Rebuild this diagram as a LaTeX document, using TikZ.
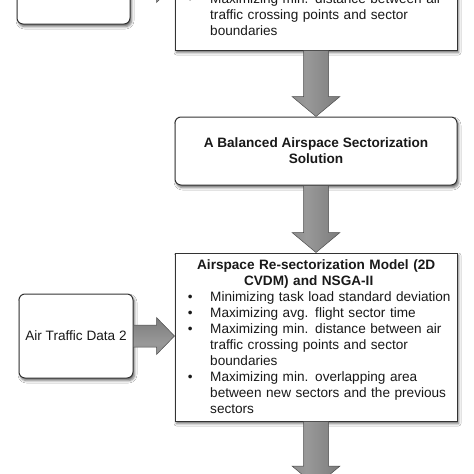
\documentclass[tikz,border=0pt]{standalone}
\usepackage{fontspec}
\setmainfont{Liberation Sans}
\usetikzlibrary{calc,shadows.blur}
\pgfdeclarehorizontalshading{arrowshade}{100bp}{color(0bp)=(black!78); color(12bp)=(black!48); color(40bp)=(black!40); color(70bp)=(black!50); color(88bp)=(black!58); color(100bp)=(black!78)}
\newcommand{\bitem}[1]{\hangindent=30pt\hangafter=1\noindent\hspace*{7pt}\makebox[6pt][c]{\textbullet}\hspace*{17pt}#1\par}
\begin{document}
\begin{tikzpicture}[x=1pt,y=-1pt,
  every node/.style={font=\fontsize{13.6}{16}\selectfont, text=black!90},
  box/.style={draw=black!80, line width=1pt, fill=white, inner sep=0pt,
    blur shadow={shadow xshift=1.5pt, shadow yshift=-2.5pt, shadow blur radius=2.5pt, shadow opacity=60}},
  rbox/.style={box, rounded corners=6pt},
  bigarrow/.style={draw=black!70, line width=0.5pt, shading=arrowshade},
  hbigarrow/.style={bigarrow, shading angle=90}]
\useasboundingbox (0,0) rectangle (474,474);
\fill[white] (0,0) rectangle (474,474);

% boxes
\node[rbox, minimum width=113pt, minimum height=80pt] (tl) at (73.5,-16) {};
\node[box, minimum width=282pt, minimum height=110pt] (tr) at (316,-5) {};
\node[rbox, minimum width=282pt, minimum height=68pt] (b2) at (316,151) {};
\node[box, minimum width=282pt, minimum height=168pt] (b3) at (316,337) {};
\node[rbox, minimum width=114pt, minimum height=84pt] (lb) at (76,336) {};
\coordinate (end) at (316,486);

% texts
\node[anchor=north west, inner sep=0pt, text width=272pt] (trt) at (180,-6.5)
  {\raggedright\bitem{Maximizing min. distance between air\newline traffic crossing points and sector\newline boundaries}};
\node[align=center, inner sep=0pt, font=\fontsize{13.6}{16}\selectfont\bfseries] (b2t) at (b2.center)
  {A Balanced Airspace Sectorization\\Solution};
\node[anchor=north west, inner sep=0pt, text width=272pt] (b3t) at (180,259)
  {{\centering\bfseries Airspace Re-sectorization Model (2D\\CVDM) and NSGA-II\hspace*{15pt}\par}
   \raggedright
   \bitem{Minimizing task load standard deviation}
   \bitem{Maximizing avg. flight sector time}
   \bitem{Maximizing min. distance between air\newline traffic crossing points and sector\newline boundaries}
   \bitem{Maximizing min. overlapping area\newline between new sectors and the previous\newline sectors}};
\node (lbt) at (lb.center) {Air Traffic Data 2};

% block arrows
\path[hbigarrow] ($(tl.east)+(0,-11.5)$) -- ($(tl.east -| tr.west)+(-18,-11.5)$) -- ($(tl.east -| tr.west)+(-18,-18.5)$)
  -- (tl.east -| tr.west) -- ($(tl.east -| tr.west)+(-18,18.5)$) -- ($(tl.east -| tr.west)+(-18,11.5)$) -- ($(tl.east)+(0,11.5)$) -- cycle;
\path[bigarrow] ($(tr.south)+(-12.5,0)$) -- ($(b2.north)+(-12.5,-20)$) -- ($(b2.north)+(-24,-20)$)
  -- (b2.north) -- ($(b2.north)+(24,-20)$) -- ($(b2.north)+(12.5,-20)$) -- ($(tr.south)+(12.5,0)$) -- cycle;
\path[bigarrow] ($(b2.south)+(-12.5,0)$) -- ($(b3.north)+(-12.5,-20)$) -- ($(b3.north)+(-24,-20)$)
  -- (b3.north) -- ($(b3.north)+(24,-20)$) -- ($(b3.north)+(12.5,-20)$) -- ($(b2.south)+(12.5,0)$) -- cycle;
\path[hbigarrow] ($(lb.east)+(0,-11)$) -- ($(lb.east -| b3.west)+(-18,-11)$) -- ($(lb.east -| b3.west)+(-18,-18.5)$)
  -- (lb.east -| b3.west) -- ($(lb.east -| b3.west)+(-18,18.5)$) -- ($(lb.east -| b3.west)+(-18,11)$) -- ($(lb.east)+(0,11)$) -- cycle;
\path[bigarrow] ($(b3.south)+(-12.5,0)$) -- ($(end)+(-12.5,-20)$) -- ($(end)+(-24,-20)$)
  -- (end) -- ($(end)+(24,-20)$) -- ($(end)+(12.5,-20)$) -- ($(b3.south)+(12.5,0)$) -- cycle;
\end{tikzpicture}
\end{document}
